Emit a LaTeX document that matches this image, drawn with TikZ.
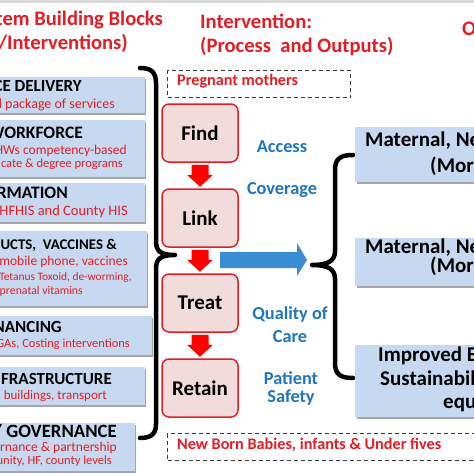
\documentclass[tikz,border=0pt]{standalone}
\usepackage{fontspec}
\setmainfont{Carlito}
\usetikzlibrary{calc,shadows}
\definecolor{hred}{RGB}{226,30,36}
\definecolor{boxblue}{RGB}{198,217,241}
\definecolor{pinkf}{RGB}{242,220,219}
\definecolor{lblue}{RGB}{30,118,190}
\definecolor{arrblue}{RGB}{58,143,212}
\definecolor{dashg}{RGB}{60,60,60}
\newcommand{\fsz}[1]{\fontsize{#1}{#1}\selectfont}
\begin{document}
\begin{tikzpicture}[x=1pt,y=-1pt,
  hdr/.style={font=\fontsize{20.6}{24}\selectfont\bfseries, text=hred, inner sep=0pt},
  ltitle/.style={font=\bfseries, text=black, inner sep=0pt, anchor=mid east},
  lsub/.style={text=hred, inner sep=0pt, anchor=mid east},
  bluebox/.style={fill=boxblue, draw=none, inner sep=0pt, drop shadow={shadow xshift=1.5pt, shadow yshift=-1.5pt, fill=gray!70, opacity=1}},
  procbox/.style={fill=pinkf, draw=hred, line width=1.5pt, rounded corners=7pt, minimum width=76pt, minimum height=58pt, inner sep=0pt, font=\fontsize{21}{24}\selectfont\bfseries},
  bluelbl/.style={font=\fontsize{18.3}{21}\selectfont\bfseries, text=lblue, inner sep=0pt},
  rtext/.style={font=\fontsize{21}{24}\selectfont\bfseries, text=black, inner sep=0pt, anchor=mid west},
  dbox/.style={draw=dashg, dashed, dash pattern=on 4pt off 3pt, line width=1.3pt, inner sep=0pt},
  dtext/.style={font=\fontsize{16.2}{19}\selectfont\bfseries, text=hred, inner sep=0pt, anchor=mid west},
  brace/.style={draw=black, line width=4.5pt, line cap=round, line join=round},
  redarrow/.style={fill=red, draw=none},
  bluearrow/.style={fill=arrblue, draw=none}]
\useasboundingbox (0,0) rectangle (474,474);
\clip (0,0) rectangle (474,474);
\fill[white] (0,0) rectangle (474,474);
\fill[gray!30] (0,0) rectangle (474,2.5);

% headers
\node[hdr, anchor=mid east] (h1a) at (163,23) {Health System Building Blocks};
\node[hdr, anchor=mid east] (h1b) at (128,47) {(Inputs/Interventions)};
\node[hdr, anchor=mid west] (h2a) at (200,26) {Intervention:};
\node[hdr, anchor=mid west] (h2b) at (200,50) {(Process\ \ and Outputs)};
\node[hdr, anchor=mid west] (h3) at (462,33) {Outcomes};

% left boxes
\node[bluebox, anchor=north east, minimum width=200pt, minimum height=36pt] (b1) at (145,77) {};
\node[bluebox, anchor=north east, minimum width=200pt, minimum height=57pt] (b2) at (145,120) {};
\node[bluebox, anchor=north east, minimum width=200pt, minimum height=39pt] (b3) at (145,183) {};
\node[bluebox, anchor=north east, minimum width=200pt, minimum height=75pt] (b4) at (147,231) {};
\node[bluebox, anchor=north east, minimum width=200pt, minimum height=39pt] (b5) at (152,316) {};
\node[bluebox, anchor=north east, minimum width=200pt, minimum height=38pt] (b6) at (145,367) {};
\node[bluebox, anchor=north east, minimum width=200pt, minimum height=48pt] (b7) at (135,423) {};

\node[ltitle, font=\fsz{17}\bfseries] (t1) at (82,89) {SERVICE DELIVERY};
\node[lsub, font=\fsz{14}] (s1) at (115,106) {- Essential package of services};
\node[ltitle, font=\fsz{17.5}\bfseries] (t2) at (83,136) {HEALTH WORKFORCE};
\node[lsub, font=\fsz{13.5}] (s2a) at (127,152) {- Training: HWs competency-based};
\node[lsub, font=\fsz{12.5}] (s2b) at (123,165) {certificate \& degree programs};
\node[ltitle, font=\fsz{17.5}\bfseries] (t3) at (68,196) {HEALTH INFORMATION};
\node[lsub, font=\fsz{14.5}] (s3) at (128,213) {- HFHIS and County HIS};
\node[ltitle, font=\fsz{14.8}\bfseries] (t4) at (117,247) {MEDICAL PRODUCTS,\ \ VACCINES \&};
\node[lsub, font=\fsz{13.5}] (s4a) at (128,263) {{\color{black}\bfseries TECHNOLOGIES} -- mobile phone, vaccines};
\node[lsub, font=\fsz{11.4}] (s4b) at (132,278) {Tetanus Toxoid, de-worming,};
\node[lsub, font=\fsz{11.8}] (s4c) at (83,292) {- prenatal vitamins};
\node[ltitle, font=\fsz{17}\bfseries] (t5) at (62,330) {FINANCING};
\node[lsub, font=\fsz{12.5}] (s5) at (130,345) {- IGAs, Costing interventions};
\node[ltitle, font=\fsz{17}\bfseries] (t6) at (112,382) {INFRASTRUCTURE};
\node[lsub, font=\fsz{13}] (s6) at (107,397) {- PHC, buildings, transport};
\node[ltitle, font=\fsz{18.8}\bfseries] (t7) at (117,435) {LEADERSHIP / GOVERNANCE};
\node[lsub, font=\fsz{13.5}] (s7a) at (117,449) {- Governance \& partnership};
\node[lsub, font=\fsz{12.5}] (s7b) at (112,462) {at community, HF, county levels};

% left brace
\coordinate (lbtip) at (175,255);
\draw[brace] (140,68) .. controls (151,68) and (156,72) .. (156,83) -- (156,241)
  .. controls (156,251) and (160,255) .. (lbtip)
  .. controls (160,255) and (156,259) .. (156,269) -- (156,424)
  .. controls (156,434) and (151,438) .. (140,438);

% dashed boxes
\node[dbox, anchor=north west, minimum width=183pt, minimum height=27pt] (pm) at (167,70) {};
\node[dtext] (pmt) at (177,83) {Pregnant mothers};
\node[dbox, anchor=north west, minimum width=340pt, minimum height=27pt] (nb) at (167,433) {};
\node[dtext] (nbt) at (177,447) {New Born Babies, infants \& Under fives};

% process boxes
\node[procbox] (find) at (200,133) {Find};
\node[procbox] (link) at (200,218) {Link};
\node[procbox] (treat) at (200,303) {Treat};
\node[procbox] (retain) at (200,388) {Retain};

\foreach \a in {find,link,treat}{
  \fill[redarrow] ($(\a.south)+(-8.5,2)$) -- ($(\a.south)+(8.5,2)$) -- ($(\a.south)+(8.5,12)$)
    -- ($(\a.south)+(13,12)$) -- ($(\a.south)+(0,24)$) -- ($(\a.south)+(-13,12)$)
    -- ($(\a.south)+(-8.5,12)$) -- cycle;
}

% blue labels
\node[bluelbl] (acc) at (282,147) {Access};
\node[bluelbl] (cov) at (282,190) {Coverage};
\node[bluelbl] (qual) at (290,315) {Quality of};
\node[bluelbl] (care) at (290,337) {Care};
\node[bluelbl] (pat) at (291,378) {Patient};
\node[bluelbl] (saf) at (291,398) {Safety};

% blue arrow
\coordinate (batip) at (307,260);
\fill[bluearrow] (220,252) -- (297,252) -- (297,243) -- (batip) -- (297,276) -- (297,268) -- (220,268) -- cycle;

% right brace
\coordinate (rbtip) at (312,265);
\draw[brace] (353,155) .. controls (340,155) and (335,159) .. (335,170) -- (335,251)
  .. controls (335,261) and (328,265) .. (rbtip)
  .. controls (328,265) and (335,269) .. (335,279) -- (335,363)
  .. controls (335,374) and (340,378) .. (353,378);

% right boxes
\node[bluebox, anchor=north west, minimum width=200pt, minimum height=55pt] (ra) at (355,127) {};
\node[bluebox, anchor=north west, minimum width=200pt, minimum height=48pt] (rb) at (355,238) {};
\node[bluebox, anchor=north west, minimum width=200pt, minimum height=72pt] (rc) at (355,345) {};
\node[rtext] (ra1) at (365,144) {Maternal, Newborn \& Child};
\node[rtext] (ra2) at (430,170) {(Morbidity)};
\node[rtext] (rb1) at (365,251) {Maternal, Newborn \& Child};
\node[rtext] (rb2) at (430,270) {(Mortality)};
\node[rtext] (rc1) at (378,359) {Improved Efficiency,};
\node[rtext] (rc2) at (380,383) {Sustainability and};
\node[rtext] (rc3) at (443,406) {equity};
\end{tikzpicture}
\end{document}
